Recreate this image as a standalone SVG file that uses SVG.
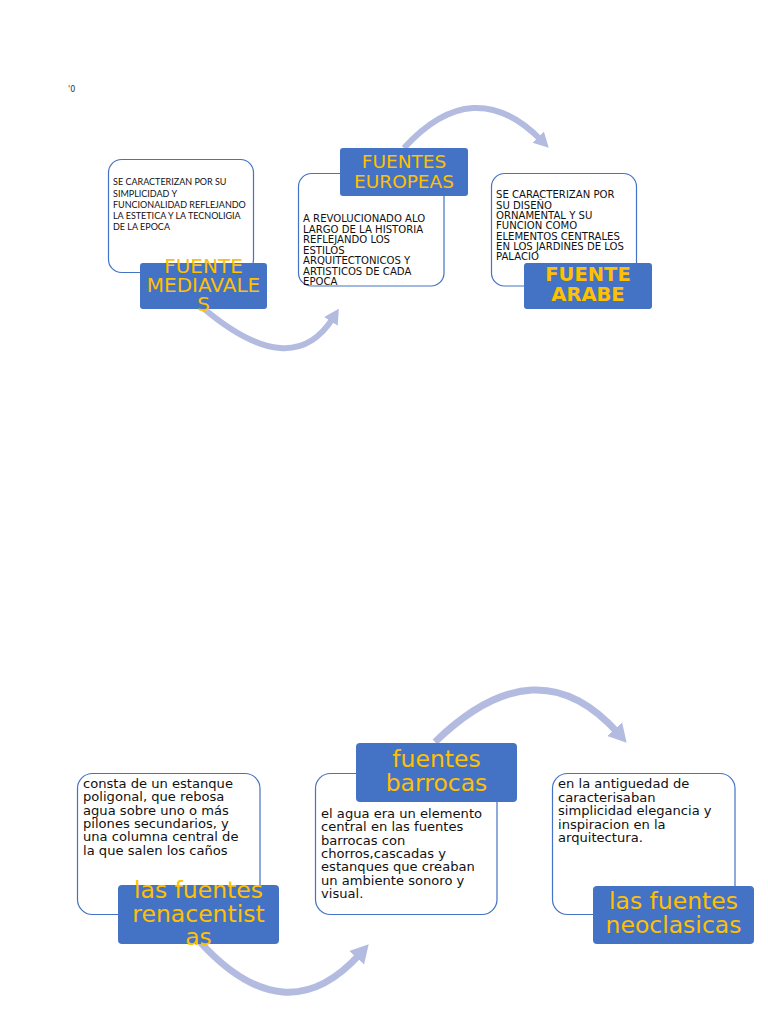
<svg xmlns="http://www.w3.org/2000/svg" width="768" height="1024" viewBox="0 0 768 1024">
<style>
.box{fill:#fff;stroke:#4472C4;stroke-width:1.2}
.lbl{fill:#4472C4}
.lt{font-family:"DejaVu Sans",sans-serif;fill:#FFC000;text-anchor:middle}
.bt{font-family:"DejaVu Sans",sans-serif;fill:#111}
.arr{fill:none;stroke:#B3BCE0}
</style>
<defs>
<marker id="ah" markerUnits="userSpaceOnUse" markerWidth="18" markerHeight="18" viewBox="0 0 18 18" refX="4" refY="9" orient="auto">
<path d="M0,1 L15,9 L0,17 z" fill="#B3BCE0"/>
</marker>
<marker id="ah2" markerUnits="userSpaceOnUse" markerWidth="22" markerHeight="22" viewBox="0 0 22 22" refX="5" refY="11" orient="auto">
<path d="M0,1 L18,11 L0,21 z" fill="#B3BCE0"/>
</marker>
</defs>
<text x="68" y="92" font-family="DejaVu Sans,sans-serif" font-size="8" fill="#333">'0</text>
<g id="connectors">
<path class="arr" stroke-width="6" d="M203,308 Q292,383 333,318" marker-end="url(#ah)"/>
<path class="arr" stroke-width="6" d="M404,148 Q473.5,72 541,140" marker-end="url(#ah)"/>
<path class="arr" stroke-width="7" d="M200,942 Q286,1036 360,954" marker-end="url(#ah2)"/>
<path class="arr" stroke-width="7" d="M435,742 Q537.5,642.5 618,733" marker-end="url(#ah2)"/>
</g>
<g id="n1">
<rect class="box" x="108.5" y="159.5" width="145" height="113" rx="13"/>
<text font-family="Lato,sans-serif" font-size="9" fill="#111"><tspan x="113" y="185">SE CARACTERIZAN POR SU</tspan><tspan x="113" y="197">SIMPLICIDAD Y</tspan><tspan x="113" y="208">FUNCIONALIDAD REFLEJANDO</tspan><tspan x="113" y="219">LA ESTETICA Y LA TECNOLIGIA</tspan><tspan x="113" y="230">DE LA EPOCA</tspan></text>
<rect class="lbl" x="140" y="263" width="127" height="46" rx="3"/>
<text class="lt" font-size="20"><tspan x="203.5" y="273">FUENTE</tspan><tspan x="203.5" y="292">MEDIAVALE</tspan><tspan x="203.5" y="311">S</tspan></text>
</g>
<g id="n2">
<rect class="box" x="298.5" y="173.5" width="145.5" height="112.5" rx="13"/>
<text class="bt" font-size="10.1"><tspan x="303" y="222">A REVOLUCIONADO ALO</tspan><tspan x="303" y="233">LARGO DE LA HISTORIA</tspan><tspan x="303" y="243">REFLEJANDO LOS</tspan><tspan x="303" y="253.5">ESTILOS</tspan><tspan x="303" y="264">ARQUITECTONICOS Y</tspan><tspan x="303" y="274.5">ARTISTICOS DE CADA</tspan><tspan x="303" y="285">EPOCA</tspan></text>
<rect class="lbl" x="340" y="148" width="128" height="48" rx="3"/>
<text class="lt" font-size="18.5"><tspan x="404" y="168">FUENTES</tspan><tspan x="404" y="188">EUROPEAS</tspan></text>
</g>
<g id="n3">
<rect class="box" x="491.5" y="173.5" width="145" height="112.5" rx="13"/>
<text class="bt" font-size="10.1"><tspan x="496" y="198">SE CARACTERIZAN POR</tspan><tspan x="496" y="208.5">SU DISEÑO</tspan><tspan x="496" y="219">ORNAMENTAL Y SU</tspan><tspan x="496" y="229">FUNCION COMO</tspan><tspan x="496" y="239.5">ELEMENTOS CENTRALES</tspan><tspan x="496" y="250">EN LOS JARDINES DE LOS</tspan><tspan x="496" y="260">PALACIO</tspan></text>
<rect class="lbl" x="524" y="263" width="128" height="46" rx="3"/>
<text class="lt" font-size="19.5" font-weight="bold"><tspan x="588" y="281">FUENTE</tspan><tspan x="588" y="301">ARABE</tspan></text>
</g>
<g id="n4">
<rect class="box" x="77.5" y="773.5" width="182.5" height="141" rx="15"/>
<text class="bt" font-size="13.1"><tspan x="83" y="788">consta de un estanque</tspan><tspan x="83" y="801.3">poligonal, que rebosa</tspan><tspan x="83" y="814.6">agua sobre uno o más</tspan><tspan x="83" y="827.9">pilones secundarios, y</tspan><tspan x="83" y="841.2">una columna central de</tspan><tspan x="83" y="854.5">la que salen los caños</tspan></text>
<rect class="lbl" x="118" y="885" width="161" height="59" rx="4"/>
<text class="lt" font-size="23.5"><tspan x="198.5" y="898">las fuentes</tspan><tspan x="198.5" y="922">renacentist</tspan><tspan x="198.5" y="945">as</tspan></text>
</g>
<g id="n5">
<rect class="box" x="315.5" y="773.5" width="181.5" height="141" rx="15"/>
<text class="bt" font-size="13.1"><tspan x="321" y="818">el agua era un elemento</tspan><tspan x="321" y="831.3">central en las fuentes</tspan><tspan x="321" y="844.6">barrocas con</tspan><tspan x="321" y="857.9">chorros,cascadas y</tspan><tspan x="321" y="871.2">estanques que creaban</tspan><tspan x="321" y="884.5">un ambiente sonoro y</tspan><tspan x="321" y="897.8">visual.</tspan></text>
<rect class="lbl" x="356" y="743" width="161" height="59" rx="4"/>
<text class="lt" font-size="23.5"><tspan x="436.5" y="767">fuentes</tspan><tspan x="436.5" y="791">barrocas</tspan></text>
</g>
<g id="n6">
<rect class="box" x="552.5" y="773.5" width="182.5" height="141" rx="15"/>
<text class="bt" font-size="13.1"><tspan x="558" y="788">en la antiguedad de</tspan><tspan x="558" y="801.5">caracterisaban</tspan><tspan x="558" y="815">simplicidad elegancia y</tspan><tspan x="558" y="828.5">inspiracion en la</tspan><tspan x="558" y="842">arquitectura.</tspan></text>
<rect class="lbl" x="593" y="886" width="161" height="58" rx="4"/>
<text class="lt" font-size="23.5"><tspan x="673.5" y="909">las fuentes</tspan><tspan x="673.5" y="933">neoclasicas</tspan></text>
</g>
</svg>
